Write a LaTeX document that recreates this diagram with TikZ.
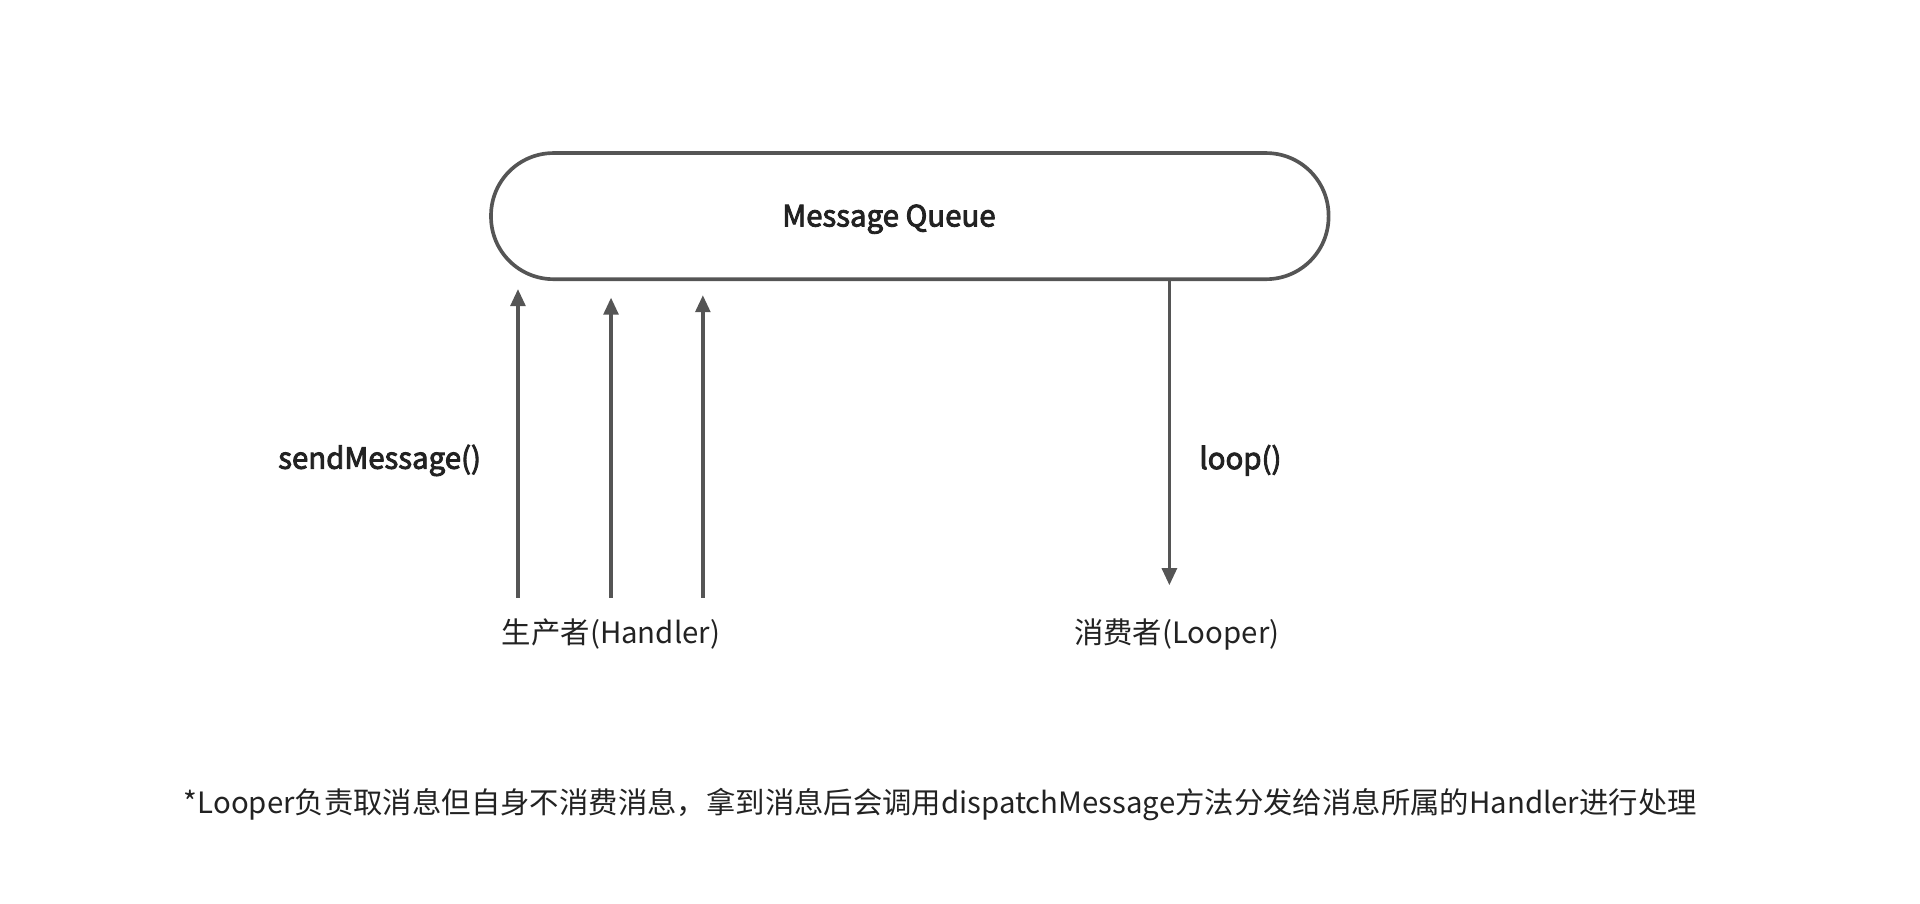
\documentclass[tikz,border=0pt]{standalone}
\usepackage{fontspec}
\setmainfont{Noto Sans CJK SC}
\newfontfamily\medf[FakeBold=3]{Noto Sans CJK SC}
\usetikzlibrary{arrows.meta}
\definecolor{lc}{HTML}{555555}
\definecolor{tc}{HTML}{222222}
\begin{document}
\begin{tikzpicture}[x=0.5pt,y=-0.5pt,
  arr/.style={draw=lc,line width=1.5pt,-{Triangle[length=7pt,width=6pt]}},
  lbl/.style={text=tc,font=\fontsize{12}{14}\selectfont,inner sep=0pt},
  blbl/.style={lbl,font=\fontsize{12}{14}\selectfont\medf}]
\useasboundingbox (0,0) rectangle (1568,738);
\node[draw=lc,line width=1.5pt,rounded corners=25.5pt,minimum width=342pt,minimum height=51.5pt,inner sep=0pt] (mq) at (743,176.5) {};
\node[blbl] (mqt) at (726,179) {Message Queue};
\coordinate (p1) at (423,488); \coordinate (q1) at (423,236);
\coordinate (p2) at (499,488); \coordinate (q2) at (499,243);
\coordinate (p3) at (574,488); \coordinate (q3) at (574,241);
\coordinate (c1) at (955,228); \coordinate (c2) at (955,478);
\draw[arr] (p1) -- (q1);
\draw[arr] (p2) -- (q2);
\draw[arr] (p3) -- (q3);
\draw[arr] (c1) -- (c2);
\node[blbl] (sm) at (310,376) {sendMessage()};
\node[blbl] (lp) at (1013,376) {loop()};
\node[lbl] (pr) at (499,518) {生产者(Handler)};
\node[lbl] (co) at (961,518) {消费者(Looper)};
\node[lbl] (fn) at (768,657) {*Looper负责取消息但自身不消费消息，拿到消息后会调用dispatchMessage方法分发给消息所属的Handler进行处理};
\end{tikzpicture}
\end{document}
